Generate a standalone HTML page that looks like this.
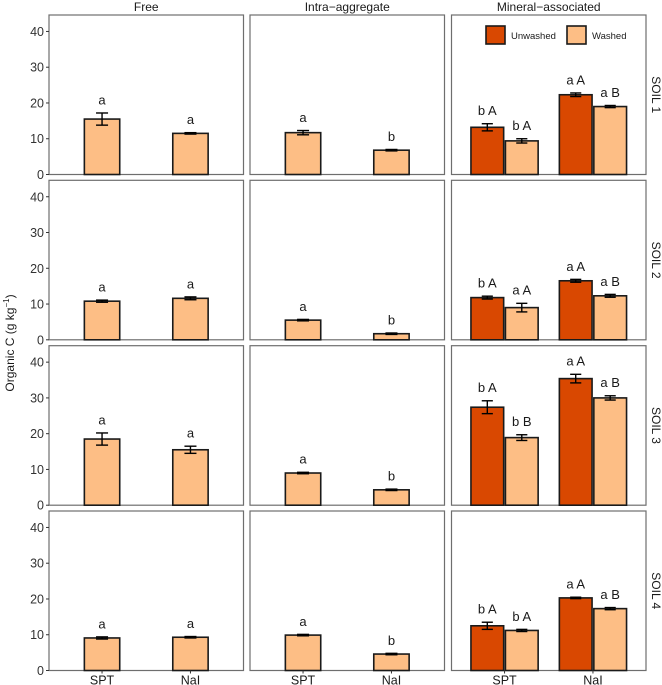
<!DOCTYPE html>
<html><head><meta charset="utf-8">
<style>
body{margin:0;background:#fff;}
svg{display:block;font-family:"Liberation Sans",Arial,sans-serif;}
</style></head>
<body>
<svg id="chart" width="662" height="685" viewBox="0 0 662 685"></svg>
<script>
const fractions = ["Free","Intra\u2212aggregate","Mineral\u2212associated"];
const soils = ["SOIL 1","SOIL 2","SOIL 3","SOIL 4"];
const methods = ["SPT","NaI"];
const yTicks = [0,10,20,30,40];
// per soil: [SPT, NaI]
const freeVals = [[15.5,11.5],[10.8,11.6],[18.5,15.5],[9.1,9.3]];
const freeErr  = [[1.7,0.2],[0.3,0.4],[1.7,1.0],[0.3,0.2]];
const freeLab  = [["a","a"],["a","a"],["a","a"],["a","a"]];
const intraVals = [[11.7,6.8],[5.5,1.7],[9.0,4.3],[9.9,4.6]];
const intraErr  = [[0.6,0.2],[0.2,0.2],[0.2,0.2],[0.2,0.2]];
const intraLab  = [["a","b"],["a","b"],["a","b"],["a","b"]];
const unwashedVals = [[13.2,22.3],[11.8,16.5],[27.4,35.4],[12.5,20.3]];
const unwashedErr  = [[1.0,0.5],[0.4,0.4],[1.8,1.2],[1.0,0.2]];
const unwashedLab  = [["b A","a A"],["b A","a A"],["b A","a A"],["b A","a A"]];
const washedVals = [[9.4,19.0],[9.0,12.3],[18.9,30.0],[11.2,17.3]];
const washedErr  = [[0.6,0.3],[1.2,0.4],[0.8,0.6],[0.3,0.3]];
const washedLab  = [["b A","a B"],["a A","a B"],["b B","a B"],["b A","a B"]];

const NS="http://www.w3.org/2000/svg";
const svg=document.getElementById('chart');
function mk(tag,attrs,parent){const e=document.createElementNS(NS,tag);for(const k in attrs)e.setAttribute(k,attrs[k]);(parent||svg).appendChild(e);return e;}
const colX=[49,250,451.5], panelW=194.5, rowY=[15,180.3,345.7,511], panelH=159.5, yMax=44.6;
const DARK="#D94801", LIGHT="#FDBE85";
function yS(r,v){return rowY[r]+panelH-v/yMax*panelH;}
function xS(c,pos){return colX[c]+(pos-0.4)/2.2*panelW;}

function bar(r,c,pos,w,val,err,lab,fill,name){
  const g=mk('g',{});
  
  
  const x0=xS(c,pos-w/2), x1=xS(c,pos+w/2), y=yS(r,val), y0=yS(r,0);
  mk('rect',{x:x0,y:y,width:x1-x0,height:y0-y,fill:fill,stroke:'#1a1a1a','stroke-width':1.6},g);
  const cx=(x0+x1)/2, et=yS(r,val+err), eb=yS(r,val-err), hw=(x1-x0)*0.17;
  mk('line',{x1:cx,x2:cx,y1:et,y2:eb,stroke:'#000','stroke-width':1.4},g);
  mk('line',{x1:cx-hw,x2:cx+hw,y1:et,y2:et,stroke:'#000','stroke-width':1.4},g);
  mk('line',{x1:cx-hw,x2:cx+hw,y1:eb,y2:eb,stroke:'#000','stroke-width':1.4},g);
  const t=mk('text',{x:cx,y:yS(r,val+err+2.4),'text-anchor':'middle','font-size':13,fill:'#1a1a1a'},g);
  t.textContent=lab;
}

for(let c=0;c<3;c++){
  const t=mk('text',{x:colX[c]+panelW/2,y:11,'text-anchor':'middle','font-size':12,fill:'#1a1a1a'});
  
  
  t.textContent=fractions[c];
}
for(let r=0;r<4;r++){
  for(let c=0;c<3;c++){
    const p=mk('rect',{x:colX[c],y:rowY[r],width:panelW,height:panelH,fill:'#fff',stroke:'#6e6e6e','stroke-width':1.2});
    
    
  }
  yTicks.forEach(v=>{
    const y=yS(r,v);
    mk('line',{x1:colX[0]-3,x2:colX[0],y1:y,y2:y,stroke:'#333','stroke-width':1});
    const t=mk('text',{x:colX[0]-5,y:y+4.5,'text-anchor':'end','font-size':12.5,fill:'#333'});
    
    
    t.textContent=v;
  });
  const s=mk('text',{x:0,y:0,'text-anchor':'middle','font-size':12,fill:'#1a1a1a',transform:`translate(652,${rowY[r]+panelH/2}) rotate(90)`});
  
  
  s.textContent=soils[r];
  for(let m=0;m<2;m++){
    bar(r,0,m+1,0.4,freeVals[r][m],freeErr[r][m],freeLab[r][m],LIGHT,'free-bar');
    bar(r,1,m+1,0.4,intraVals[r][m],intraErr[r][m],intraLab[r][m],LIGHT,'intra-bar');
    bar(r,2,m+1-0.195,0.37,unwashedVals[r][m],unwashedErr[r][m],unwashedLab[r][m],DARK,'unwashed-bar');
    bar(r,2,m+1+0.195,0.37,washedVals[r][m],washedErr[r][m],washedLab[r][m],LIGHT,'washed-bar');
  }
}
for(let c=0;c<3;c++){
  methods.forEach((m,i)=>{
    const x=xS(c,i+1), y=rowY[3]+panelH;
    mk('line',{x1:x,x2:x,y1:y,y2:y+3,stroke:'#333','stroke-width':1});
    const t=mk('text',{x:x,y:y+14,'text-anchor':'middle','font-size':12.5,fill:'#1a1a1a'});
    
    
    t.textContent=m;
  });
}
const yt=mk('text',{x:0,y:0,'text-anchor':'middle','font-size':12,fill:'#1a1a1a',transform:'translate(14,343) rotate(-90)'});


yt.innerHTML='Organic C (g kg<tspan dy="-5" font-size="8">\u22121</tspan><tspan dy="5">)</tspan>';
// legend
const lg=mk('g',{});


mk('rect',{x:486,y:26,width:19,height:18,fill:DARK,stroke:'#1a1a1a','stroke-width':1.6},lg);
let lt=mk('text',{x:511,y:39,'font-size':9.5,fill:'#1a1a1a'},lg); lt.textContent='Unwashed';
mk('rect',{x:567,y:26,width:19,height:18,fill:LIGHT,stroke:'#1a1a1a','stroke-width':1.6},lg);
lt=mk('text',{x:592,y:39,'font-size':9.5,fill:'#1a1a1a'},lg); lt.textContent='Washed';
</script>
</body></html>
